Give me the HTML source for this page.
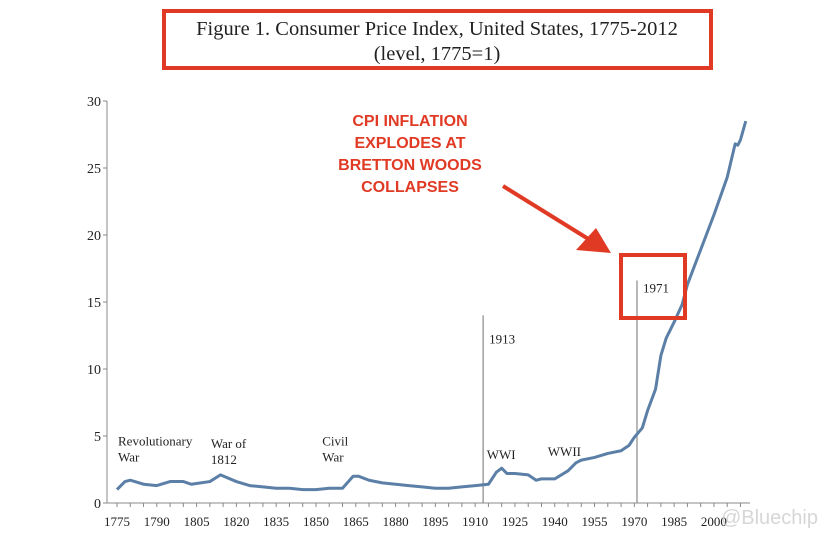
<!DOCTYPE html>
<html><head><meta charset="utf-8"><style>
body{margin:0;background:#fff;}
svg{display:block;}
.serif{font-family:"Liberation Serif",serif;fill:#222;}
.red{font-family:"Liberation Sans",sans-serif;font-weight:bold;fill:#e03a24;font-size:16px;}
</style></head><body>
<svg width="829" height="545" viewBox="0 0 829 545">
<rect x="164" y="11" width="547" height="57" fill="none" stroke="#e03a24" stroke-width="4"/>
<text class="serif" x="437" y="35" font-size="20.5" text-anchor="middle">Figure 1. Consumer Price Index, United States, 1775-2012</text>
<text class="serif" x="437" y="60" font-size="20.5" text-anchor="middle">(level, 1775=1)</text>
<g id="axes"></g>
<g id="marks"></g>
<g>
<text class="red" x="410" y="126" text-anchor="middle">CPI INFLATION</text>
<text class="red" x="410" y="148" text-anchor="middle">EXPLODES AT</text>
<text class="red" x="410" y="170" text-anchor="middle">BRETTON WOODS</text>
<text class="red" x="410" y="192" text-anchor="middle">COLLAPSES</text>
<line x1="503" y1="186" x2="590" y2="240" stroke="#e03a24" stroke-width="4"/>
<polygon points="611,253 576,250 596,228" fill="#e03a24"/>
<rect x="621" y="255" width="64" height="63" fill="none" stroke="#e03a24" stroke-width="4"/>
</g>
<text x="818" y="524" font-family="Liberation Sans,sans-serif" font-size="20" fill="#ccc" text-anchor="end" opacity="0.8">@Bluechip</text>
</svg>
<script>
const years=[1775,1778,1780,1785,1790,1795,1800,1803,1810,1814,1820,1825,1830,1835,1840,1845,1850,1855,1860,1864,1866,1870,1875,1880,1885,1890,1895,1900,1905,1910,1915,1918,1920,1922,1925,1930,1933,1935,1940,1945,1948,1950,1955,1960,1965,1968,1970,1973,1975,1978,1980,1982,1985,1988,1990,1995,2000,2005,2008,2009,2010,2012];
const cpi=[1.0,1.6,1.7,1.4,1.3,1.6,1.6,1.4,1.6,2.1,1.6,1.3,1.2,1.1,1.1,1.0,1.0,1.1,1.1,2.0,2.0,1.7,1.5,1.4,1.3,1.2,1.1,1.1,1.2,1.3,1.4,2.3,2.6,2.2,2.2,2.1,1.7,1.8,1.8,2.4,3.0,3.2,3.4,3.7,3.9,4.3,4.9,5.6,6.9,8.5,11.0,12.3,13.5,14.8,16.3,18.9,21.5,24.3,26.8,26.7,27.1,28.5];
const yTicks=[0,5,10,15,20,25,30];
const xTicks=[1775,1790,1805,1820,1835,1850,1865,1880,1895,1910,1925,1940,1955,1970,1985,2000];
const events=[{year:1913,label:"1913",top:14},{year:1971,label:"1971",top:16.6}];
const warLabels=[{text:["Revolutionary","War"],year:1775,v:4.3},{text:["War of","1812"],year:1810,v:4.1},{text:["Civil","War"],year:1852,v:4.3},{text:["WWI"],year:1914,v:3.3},{text:["WWII"],year:1937,v:3.5}];
const X=y=>117+(y-1775)*2.653, Y=v=>503-v*13.4;
const NS="http://www.w3.org/2000/svg";
function mk(tag,attrs,parent,text){const e=document.createElementNS(NS,tag);for(const k in attrs)e.setAttribute(k,attrs[k]);if(text!==undefined)e.textContent=text;parent.appendChild(e);return e;}
const ax=document.getElementById('axes'), mg=document.getElementById('marks');
let a=mk('line',{x1:107,y1:Y(0),x2:750,y2:Y(0),stroke:'#888'},ax);


a=mk('line',{x1:107,y1:Y(0),x2:107,y2:Y(30),stroke:'#888'},ax);


yTicks.forEach(t=>{
 const l=mk('line',{x1:103,y1:Y(t),x2:107,y2:Y(t),stroke:'#888'},ax);
 
 
 const tx=mk('text',{x:101,y:Y(t)+5,'text-anchor':'end','font-size':14,class:'serif'},ax,String(t));
 
 
});
for(let yr=1775;yr<=2012;yr+=5){
 const l=mk('line',{x1:X(yr),y1:Y(0),x2:X(yr),y2:Y(0)+4,stroke:'#888'},ax);
 
 
}
xTicks.forEach(t=>{
 const tx=mk('text',{x:X(t),y:526,'text-anchor':'middle','font-size':13,class:'serif'},ax,String(t));
 
 
});
events.forEach(e=>{
 const l=mk('line',{x1:X(e.year),y1:Y(0),x2:X(e.year),y2:Y(e.top),stroke:'#888','stroke-width':1.2},mg);
 
 
 const t=mk('text',{x:X(e.year)+6,y:Y(e.top)+(e.year==1971?12:28),'font-size':13,class:'serif'},mg,e.label);
 
 
});
warLabels.forEach(w=>{
 const t=mk('text',{x:X(w.year)+1,y:Y(w.v),'font-size':13,class:'serif'},mg);
 
 
 w.text.forEach((s,i)=>mk('tspan',{x:X(w.year)+1,dy:i?16:0},t,s));
});
const p=mk('polyline',{points:years.map((y,i)=>X(y)+','+Y(cpi[i])).join(' '),fill:'none',stroke:'#5b7fa6','stroke-width':3,'stroke-linejoin':'round'},mg);


</script>
</body></html>
